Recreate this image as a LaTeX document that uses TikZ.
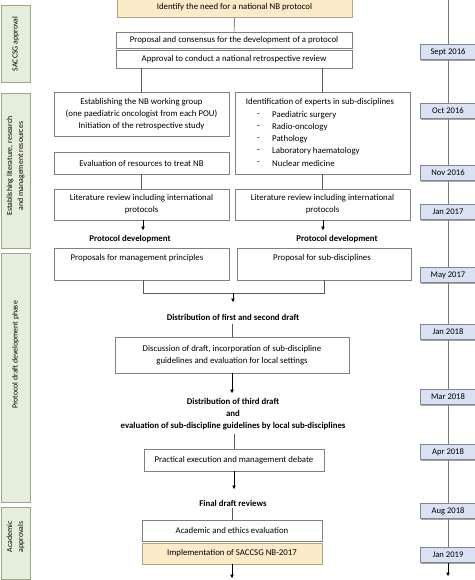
\documentclass[tikz,border=0pt]{standalone}
\usepackage{fontspec}
\setmainfont{Carlito}
\usetikzlibrary{arrows.meta,shadows}
\definecolor{boxline}{HTML}{808080}
\definecolor{conn}{HTML}{595959}
\definecolor{yelfill}{HTML}{FBEBC8}
\definecolor{yelline}{HTML}{B5A27E}
\definecolor{grnfill}{HTML}{E4EEDB}
\definecolor{grnline}{HTML}{9CA58F}
\definecolor{blufill}{HTML}{D9E1F2}
\definecolor{bluline}{HTML}{7F8792}
\newcommand{\mf}{\fontsize{8.8}{12}\selectfont}
\tikzset{
  txt/.style={font=\mf, inner sep=0pt},
  btxt/.style={font=\mf\bfseries, inner sep=0pt, align=center},
  stepbox/.style={draw=boxline, line width=0.6pt, fill=white, inner sep=0pt, align=center,
     font=\mf},
  yelbox/.style={stepbox, draw=yelline, fill=yelfill},
  phasebox/.style={draw=grnline, line width=0.6pt, fill=grnfill, inner sep=0pt,
     drop shadow={shadow xshift=1.2pt, shadow yshift=-1.2pt, fill=gray!70, opacity=1}},
  phasetxt/.style={font=\fontsize{7.8}{11}\selectfont, rotate=90, align=center, inner sep=0pt},
  datebox/.style={draw=bluline, line width=0.6pt, fill=blufill, inner sep=0pt,
     minimum width=56pt, minimum height=15pt, font=\fontsize{8.6}{9}\selectfont,
     drop shadow={shadow xshift=1.2pt, shadow yshift=-1.2pt, fill=gray!70, opacity=1}},
  link/.style={draw=conn, line width=0.6pt},
  arr/.style={link, -{Triangle[length=3.5pt,width=3.5pt]}, draw=black},
  tline/.style={draw=conn!80, line width=0.8pt},
}
\begin{document}
\begin{tikzpicture}[x=1pt,y=-1pt]
\useasboundingbox (0,0) rectangle (474,580);
% phase boxes
\node[phasebox, minimum width=29pt, minimum height=77pt] (ph1) at (15.5,43.5) {};
\node[phasetxt] (ph1t) at (15.5,44) {SACCSG approval};
\node[phasebox, minimum width=29pt, minimum height=155pt] (ph2) at (15.5,170.5) {};
\node[phasetxt] (ph2t) at (15.5,166) {Establishing literature, research\\and management resources};
\node[phasebox, minimum width=29pt, minimum height=249pt] (ph3) at (15.5,377.5) {};
\node[phasetxt] (ph3t) at (15.5,355) {Protocol draft development phase};
\node[phasebox, minimum width=29pt, minimum height=72pt] (ph4) at (15.5,543) {};
\node[phasetxt] (ph4t) at (15.5,537) {Academic\\approvals};

% timeline
\coordinate (ttop) at (448,-2);
\coordinate (tend) at (448,576);
\node[datebox] (d1) at (448,52) {Sept 2016};
\node[datebox] (d2) at (448,111) {Oct 2016};
\node[datebox] (d3) at (448,173) {Nov 2016};
\node[datebox] (d4) at (448,212) {Jan 2017};
\node[datebox] (d5) at (448,275) {May 2017};
\node[datebox] (d6) at (448,332) {Jan 2018};
\node[datebox] (d7) at (448,397) {Mar 2018};
\node[datebox] (d8) at (448,452) {Apr 2018};
\node[datebox] (d9) at (448,511) {Aug 2018};
\node[datebox] (d10) at (448,555) {Jan 2019};
\draw[tline] (ttop) -- (d1) -- (d2) -- (d3) -- (d4) -- (d5) -- (d6) -- (d7) -- (d8) -- (d9) -- (d10);
\draw[arr] (d10) -- (tend);

% main column
\node[yelbox, minimum width=235pt, minimum height=20pt] (top) at (234.5,7) {Identify the need for a national NB protocol};
\node[stepbox, minimum width=236pt, minimum height=16pt] (prop) at (234,40) {Proposal and consensus for the development of a protocol};
\node[stepbox, minimum width=236pt, minimum height=18pt] (appr) at (234,59) {Approval to conduct a national retrospective review};
\draw[link] (top) -- (prop);

\node[stepbox, minimum width=175pt, minimum height=44pt] (est) at (141.5,114) {Establishing the NB working group\\(one paediatric oncologist from each POU)\\Initiation of the retrospective study};
\node[stepbox, minimum width=175pt, minimum height=82pt] (ident) at (322.5,133) {};
\node[txt] (idh) at (320,102) {Identification of experts in sub-disciplines};
\node[txt, anchor=west] (i1d) at (257,115) {-};
\node[txt, anchor=west] (i1) at (272,115) {Paediatric surgery};
\node[txt, anchor=west] (i2d) at (257,127) {-};
\node[txt, anchor=west] (i2) at (272,127) {Radio-oncology};
\node[txt, anchor=west] (i3d) at (257,139) {-};
\node[txt, anchor=west] (i3) at (272,139) {Pathology};
\node[txt, anchor=west] (i4d) at (257,151) {-};
\node[txt, anchor=west] (i4) at (272,151) {Laboratory haematology};
\node[txt, anchor=west] (i5d) at (257,163) {-};
\node[txt, anchor=west] (i5) at (272,163) {Nuclear medicine};
\draw[link] (appr.south -| est.north) -- (est.north);
\draw[link] (appr.south -| ident.north) -- (ident.north);

\node[stepbox, minimum width=175pt, minimum height=22pt] (eval) at (141.5,163) {Evaluation of resources to treat NB};
\node[stepbox, minimum width=175pt, minimum height=31pt] (litL) at (141.5,204.5) {Literature review including international\\protocols};
\node[stepbox, minimum width=175pt, minimum height=31pt] (litR) at (322.5,204.5) {Literature review including international\\protocols};
\draw[link] (eval) -- (litL);
\draw[link] (ident) -- (litR);

\coordinate (aL) at (143,230);
\coordinate (aR) at (323,230);
\draw[arr] (litL.south -| aL) -- (aL);
\draw[arr] (litR.south -| aR) -- (aR);
\node[btxt] (pdL) at (130,239) {Protocol development};
\node[btxt] (pdR) at (337,239) {Protocol development};

\node[stepbox, minimum width=175pt, minimum height=32pt] (propL) at (141.5,264) {};
\node[txt] (propLt) at (137,258) {Proposals for management principles};
\node[stepbox, minimum width=174pt, minimum height=32pt] (propR) at (324,264) {};
\node[txt] (propRt) at (322,258) {Proposal for sub-disciplines};
\coordinate (jL) at (143,293);
\coordinate (jR) at (324,293);
\coordinate (jM) at (233,293);
\coordinate (jA) at (233,302);
\draw[link] (propL.south -| jL) -- (jL) -- (jR) -- (propR.south -| jR);
\draw[arr] (jM) -- (jA);

\node[btxt] (dist1) at (233,317) {Distribution of first and second draft};
\node[stepbox, minimum width=234pt, minimum height=36pt] (disc) at (232,355) {Discussion of draft, incorporation of sub-discipline\\guidelines and evaluation for local settings};
\draw[link] (dist1.south -| disc.north) ++(0,4) -- (disc.north);
\coordinate (a3) at (232,393);
\draw[arr] (disc.south) -- (a3);

\node[btxt] (dist3) at (233,414) {Distribution of third draft\\and\\evaluation of sub-discipline guidelines by local sub-disciplines};
\node[stepbox, minimum width=180pt, minimum height=22pt] (prac) at (234,460) {Practical execution and management debate};
\draw[link] (dist3.south -| prac.north) ++(0,4) -- (prac.north);
\coordinate (a4) at (234,489);
\draw[arr] (prac.south) -- (a4);

\node[btxt] (final) at (233,503) {Final draft reviews};
\node[stepbox, minimum width=180pt, minimum height=21pt] (acad) at (232,530.5) {Academic and ethics evaluation};
\node[yelbox, minimum width=180pt, minimum height=21pt] (impl) at (232,553.5) {Implementation of SACCSG NB-2017};
\draw[link] (final.south -| acad.north) ++(0,2) -- (acad.north);
\coordinate (a5) at (232,578);
\draw[arr] (impl.south) -- (a5);
\end{tikzpicture}
\end{document}
